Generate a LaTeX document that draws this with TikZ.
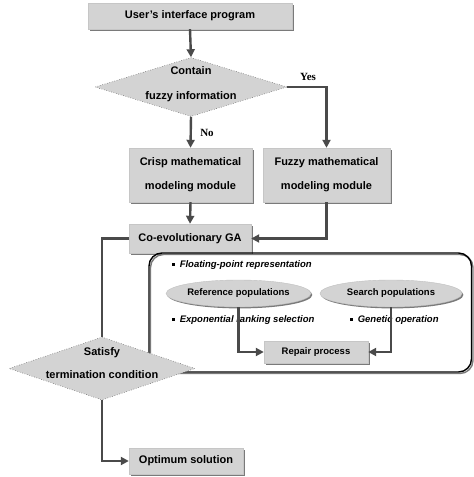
\documentclass[tikz,border=0pt]{standalone}
\usepackage{fontspec}
\setmainfont{Liberation Sans}
\newfontfamily\serifb{Liberation Serif}
\usetikzlibrary{shapes.geometric,shadows,arrows.meta}
\definecolor{boxfill}{HTML}{D3D3D3}
\definecolor{linec}{HTML}{4A4A4A}
\definecolor{shad}{HTML}{7A7A7A}
\tikzset{
  box/.style={rectangle, fill=boxfill, draw=gray!45, line width=0.4pt, inner sep=0pt,
    drop shadow={shadow xshift=1.6pt, shadow yshift=-1.6pt, fill=shad, opacity=1},
    align=center, font=\bfseries\fontsize{11}{24}\selectfont},
  dia/.style={diamond, fill=boxfill, draw=linec, line width=0.5pt, dotted, inner sep=0pt},
  diatext/.style={align=center, font=\bfseries\fontsize{11}{24}\selectfont},
  ell/.style={ellipse, fill=boxfill, draw=gray!50, line width=0.4pt, inner sep=0pt,
    drop shadow={shadow xshift=1.4pt, shadow yshift=-1.4pt, fill=shad, opacity=1},
    font=\bfseries\fontsize{9.5}{11}\selectfont},
  conn/.style={draw=linec, line width=2.4pt},
  arr/.style={conn, -{Triangle[length=8pt,width=8pt]}},
  bullet/.style={anchor=west, inner sep=0pt, font=\bfseries\itshape\fontsize{9.5}{11}\selectfont},
  yn/.style={font=\serifb\bfseries\fontsize{11}{12}\selectfont, inner sep=0pt}
}
\newcommand{\sqb}{\raisebox{1.5pt}{\rule{2.6pt}{2.6pt}}\hspace{5pt}}
\begin{document}
\begin{tikzpicture}[x=1pt,y=-1pt]
\useasboundingbox (0,0) rectangle (474,477);
% nodes
\node[box, minimum width=204pt, minimum height=26pt] (user) at (190,16) {User's interface program};
\node[dia, minimum width=192pt, minimum height=59pt] (d1) at (191,87) {};
\node[diatext, font=\bfseries\fontsize{11}{25}\selectfont] (d1t) at (191,84) {Contain\\fuzzy information};
\node[box, minimum width=123pt, minimum height=54pt] (crisp) at (190.5,175) {Crisp mathematical\\modeling module};
\node[box, minimum width=127pt, minimum height=54pt] (fuzzy) at (326.5,175) {Fuzzy mathematical\\modeling module};
\node[box, minimum width=122pt, minimum height=29pt] (coevo) at (190,238.5) {Co-evolutionary GA};
% frame
\draw[shad, line width=1.4pt, rounded corners=13pt] (150.5,254.5) rectangle (473,373.5);
\draw[black, line width=1.4pt, rounded corners=13pt] (149,253) rectangle (471.5,372);
\node[bullet] (fp) at (172,265) {\sqb Floating-point representation};
\node[ell, minimum width=143pt, minimum height=27pt] (ref) at (238.5,293.5) {Reference populations};
\node[ell, minimum width=142pt, minimum height=27pt] (search) at (391,293.5) {Search populations};
\node[bullet] (ers) at (172,320) {\sqb Exponential ranking selection};
\node[bullet] (gop) at (350,320) {\sqb Genetic operation};
\node[box, minimum width=104pt, minimum height=22pt, font=\bfseries\fontsize{9.5}{11}\selectfont] (repair) at (316,352) {Repair process};
\node[dia, minimum width=186pt, minimum height=63pt] (d2) at (102,368.5) {};
\node[diatext, font=\bfseries\fontsize{11}{23}\selectfont] (d2t) at (102,363.5) {Satisfy\\termination condition};
\node[box, minimum width=114pt, minimum height=26pt] (opt) at (186,461) {Optimum solution};
% labels
\node[yn] (yes) at (308,77) {Yes};
\node[yn] (no) at (207,133) {No};
% connectors
\draw[arr] (user.south) -- (d1.north);
\draw[arr] (d1.east) -| (fuzzy.north);
\draw[arr] (d1.south) -- (crisp.north);
\draw[arr] (crisp.south) -- (coevo.north);
\draw[arr] (fuzzy.south) |- (coevo.east);
\draw[conn] (coevo.west) -| (d2.north);
\draw[arr] (d2.south) |- (opt.west);
\draw[arr] (ref.south) |- (repair.west);
\draw[arr] (search.south) |- (repair.east);
\end{tikzpicture}
\end{document}
